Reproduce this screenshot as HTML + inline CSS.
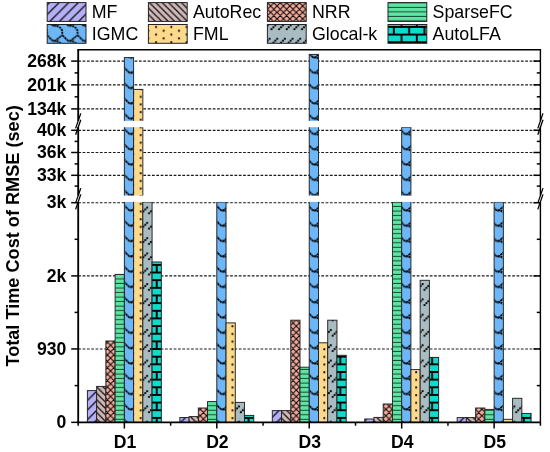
<!DOCTYPE html>
<html><head><meta charset="utf-8"><title>Total Time Cost of RMSE</title>
<style>
html,body{margin:0;padding:0;background:#fff;}
body{width:550px;height:452px;overflow:hidden;}
svg{display:block;}
text{font-family:"Liberation Sans",Arial,Helvetica,sans-serif;fill:#000;}
.b{font-weight:bold;font-size:17.6px;}
.l{font-size:17.8px;}
.t{font-weight:bold;font-size:18.15px;}
</style></head><body>
<svg width="550" height="452" viewBox="0 0 550 452">
<defs><pattern id="pMF" patternUnits="userSpaceOnUse" width="9.603" height="9.603" x="7.7" y="0"><rect width="9.603" height="9.603" fill="#b4aff6"/><path d="M-1,1 L1,-1 M-1,10.603 L10.603,-1 M8.603,10.603 L10.603,8.603" stroke="#0a0a0a" stroke-width="1.25" fill="none"/></pattern>
<pattern id="pAutoRec" patternUnits="userSpaceOnUse" width="6.402" height="6.402" x="4.3" y="0"><rect width="6.402" height="6.402" fill="#cfb8b7"/><path d="M-1,-1 L7.402,7.402 M5.402,-1 L7.402,1 M-1,5.402 L1,7.402" stroke="#0a0a0a" stroke-width="1.2" fill="none"/></pattern>
<pattern id="pNRR" patternUnits="userSpaceOnUse" width="6.402" height="6.402" x="1.765" y="-0.405"><rect width="6.402" height="6.402" fill="#f6ac9c"/><path d="M-1,-1 L7.402,7.402 M5.402,-1 L7.402,1 M-1,5.402 L1,7.402 M-1,1 L1,-1 M-1,7.402 L7.402,-1 M5.402,7.402 L7.402,5.402" stroke="#0a0a0a" stroke-width="1.1" fill="none"/></pattern>
<pattern id="pSparseFC" patternUnits="userSpaceOnUse" width="10" height="4.527" x="0" y="0.6"><rect width="10" height="4.527" fill="#5fe4a3"/><path d="M-1,2.2 L11,2.2" stroke="#103a27" stroke-opacity="0.9" stroke-width="1" fill="none"/></pattern>
<pattern id="pIGMC" patternUnits="userSpaceOnUse" width="15.3" height="15.3" x="0" y="0.6"><rect width="15.3" height="15.3" fill="#6db6f7"/><path d="M-14.20,-10.20 L-8.40,-4.40 L-6.00,-4.40 L1.10,-10.20 M-14.20,5.10 L-8.40,10.90 L-6.00,10.90 L1.10,5.10 M-14.20,20.40 L-8.40,26.20 L-6.00,26.20 L1.10,20.40 M1.10,-10.20 L6.90,-4.40 L9.30,-4.40 L16.40,-10.20 M1.10,5.10 L6.90,10.90 L9.30,10.90 L16.40,5.10 M1.10,20.40 L6.90,26.20 L9.30,26.20 L16.40,20.40 M16.40,-10.20 L22.20,-4.40 L24.60,-4.40 L31.70,-10.20 M16.40,5.10 L22.20,10.90 L24.60,10.90 L31.70,5.10 M16.40,20.40 L22.20,26.20 L24.60,26.20 L31.70,20.40 " stroke="#000" stroke-width="1.6" stroke-dasharray="2.6 0.5" fill="none"/><path d="M-7.20,-19.70 A8.3 6.4 0 0 1 1.10,-13.30 L1.10,-10.20 M-7.20,-4.40 A8.3 6.4 0 0 1 1.10,2.00 L1.10,5.10 M-7.20,10.90 A8.3 6.4 0 0 1 1.10,17.30 L1.10,20.40 M8.10,-19.70 A8.3 6.4 0 0 1 16.40,-13.30 L16.40,-10.20 M8.10,-4.40 A8.3 6.4 0 0 1 16.40,2.00 L16.40,5.10 M8.10,10.90 A8.3 6.4 0 0 1 16.40,17.30 L16.40,20.40 M23.40,-19.70 A8.3 6.4 0 0 1 31.70,-13.30 L31.70,-10.20 M23.40,-4.40 A8.3 6.4 0 0 1 31.70,2.00 L31.70,5.10 M23.40,10.90 A8.3 6.4 0 0 1 31.70,17.30 L31.70,20.40 " stroke="#000" stroke-width="1.9" stroke-dasharray="1.9 0.9" fill="none"/></pattern>
<pattern id="pFML" patternUnits="userSpaceOnUse" width="15.3" height="7.65"><rect width="15.3" height="7.65" fill="#fcd98b"/><rect x="2.15" y="4.05" width="1.8" height="1.9" fill="#000"/><rect x="9.8" y="0.22" width="1.8" height="1.9" fill="#000"/></pattern>
<pattern id="pGlocal" patternUnits="userSpaceOnUse" width="7.65" height="15.3"><rect width="7.65" height="15.3" fill="#a8bcc1"/><g fill="#000"><rect x="-4.90" y="-1.85" width="1.9" height="1.9"/><rect x="-4.90" y="13.45" width="1.9" height="1.9"/><rect x="-4.90" y="28.75" width="1.9" height="1.9"/><rect x="2.75" y="-1.85" width="1.9" height="1.9"/><rect x="2.75" y="13.45" width="1.9" height="1.9"/><rect x="2.75" y="28.75" width="1.9" height="1.9"/><rect x="10.40" y="-1.85" width="1.9" height="1.9"/><rect x="10.40" y="13.45" width="1.9" height="1.9"/><rect x="10.40" y="28.75" width="1.9" height="1.9"/><rect x="-2.98" y="-3.75" width="1.9" height="1.9"/><rect x="-2.98" y="11.55" width="1.9" height="1.9"/><rect x="-2.98" y="26.85" width="1.9" height="1.9"/><rect x="4.67" y="-3.75" width="1.9" height="1.9"/><rect x="4.67" y="11.55" width="1.9" height="1.9"/><rect x="4.67" y="26.85" width="1.9" height="1.9"/><rect x="12.32" y="-3.75" width="1.9" height="1.9"/><rect x="12.32" y="11.55" width="1.9" height="1.9"/><rect x="12.32" y="26.85" width="1.9" height="1.9"/><rect x="-1.06" y="-5.65" width="1.9" height="1.9"/><rect x="-1.06" y="9.65" width="1.9" height="1.9"/><rect x="-1.06" y="24.95" width="1.9" height="1.9"/><rect x="6.59" y="-5.65" width="1.9" height="1.9"/><rect x="6.59" y="9.65" width="1.9" height="1.9"/><rect x="6.59" y="24.95" width="1.9" height="1.9"/><rect x="14.24" y="-5.65" width="1.9" height="1.9"/><rect x="14.24" y="9.65" width="1.9" height="1.9"/><rect x="14.24" y="24.95" width="1.9" height="1.9"/><rect x="0.86" y="-7.55" width="1.9" height="1.9"/><rect x="0.86" y="7.75" width="1.9" height="1.9"/><rect x="0.86" y="23.05" width="1.9" height="1.9"/><rect x="8.51" y="-7.55" width="1.9" height="1.9"/><rect x="8.51" y="7.75" width="1.9" height="1.9"/><rect x="8.51" y="23.05" width="1.9" height="1.9"/><rect x="16.16" y="-7.55" width="1.9" height="1.9"/><rect x="16.16" y="7.75" width="1.9" height="1.9"/><rect x="16.16" y="23.05" width="1.9" height="1.9"/></g></pattern>
<pattern id="pAutoLFA" patternUnits="userSpaceOnUse" width="15.3" height="15.3"><rect width="15.3" height="15.3" fill="#12dacb"/><path d="M-1,4.8 L16.3,4.8 M-1,12.45 L16.3,12.45 M3.7,4.8 L3.7,12.45 M11.350000000000001,12.45 L11.350000000000001,16.3 M11.350000000000001,-1 L11.350000000000001,4.8" stroke="#000" stroke-width="1.9" fill="none"/></pattern></defs>
<rect width="550" height="452" fill="#fff"/>
<line x1="78.2" y1="61.1" x2="540.4" y2="61.1" stroke="#1a1a1a" stroke-width="1.15" stroke-dasharray="2.75 1.59"/>
<line x1="78.2" y1="84.85" x2="540.4" y2="84.85" stroke="#1a1a1a" stroke-width="1.15" stroke-dasharray="2.75 1.59"/>
<line x1="78.2" y1="108.9" x2="540.4" y2="108.9" stroke="#1a1a1a" stroke-width="1.15" stroke-dasharray="2.75 1.59"/>
<line x1="78.2" y1="130.3" x2="540.4" y2="130.3" stroke="#1a1a1a" stroke-width="1.15" stroke-dasharray="2.75 1.59"/>
<line x1="78.2" y1="152.5" x2="540.4" y2="152.5" stroke="#1a1a1a" stroke-width="1.15" stroke-dasharray="2.75 1.59"/>
<line x1="78.2" y1="175.3" x2="540.4" y2="175.3" stroke="#1a1a1a" stroke-width="1.15" stroke-dasharray="2.75 1.59"/>
<line x1="78.2" y1="202.7" x2="540.4" y2="202.7" stroke="#1a1a1a" stroke-width="1.15" stroke-dasharray="2.75 1.59"/>
<line x1="78.2" y1="275.9" x2="540.4" y2="275.9" stroke="#1a1a1a" stroke-width="1.15" stroke-dasharray="2.75 1.59"/>
<line x1="78.2" y1="348.95" x2="540.4" y2="348.95" stroke="#1a1a1a" stroke-width="1.15" stroke-dasharray="2.75 1.59"/>
<rect x="87.40" y="390.60" width="9.24" height="31.75" fill="url(#pMF)" stroke="#222" stroke-width="0.95"/>
<rect x="96.64" y="386.40" width="9.24" height="35.95" fill="url(#pAutoRec)" stroke="#222" stroke-width="0.95"/>
<rect x="105.88" y="341.00" width="9.24" height="81.35" fill="url(#pNRR)" stroke="#222" stroke-width="0.95"/>
<rect x="115.12" y="274.40" width="9.24" height="147.95" fill="url(#pSparseFC)" stroke="#222" stroke-width="0.95"/>
<rect x="124.36" y="57.60" width="9.24" height="364.75" fill="url(#pIGMC)" stroke="#222" stroke-width="0.95"/>
<rect x="133.60" y="89.40" width="9.24" height="332.95" fill="url(#pFML)" stroke="#222" stroke-width="0.95"/>
<rect x="142.84" y="202.00" width="9.24" height="220.35" fill="url(#pGlocal)" stroke="#222" stroke-width="0.95"/>
<rect x="152.08" y="262.00" width="9.24" height="160.35" fill="url(#pAutoLFA)" stroke="#222" stroke-width="0.95"/>
<rect x="179.84" y="417.50" width="9.24" height="4.85" fill="url(#pMF)" stroke="#222" stroke-width="0.95"/>
<rect x="189.08" y="416.60" width="9.24" height="5.75" fill="url(#pAutoRec)" stroke="#222" stroke-width="0.95"/>
<rect x="198.32" y="408.00" width="9.24" height="14.35" fill="url(#pNRR)" stroke="#222" stroke-width="0.95"/>
<rect x="207.56" y="401.60" width="9.24" height="20.75" fill="url(#pSparseFC)" stroke="#222" stroke-width="0.95"/>
<rect x="216.80" y="202.00" width="9.24" height="220.35" fill="url(#pIGMC)" stroke="#222" stroke-width="0.95"/>
<rect x="226.04" y="322.90" width="9.24" height="99.45" fill="url(#pFML)" stroke="#222" stroke-width="0.95"/>
<rect x="235.28" y="402.40" width="9.24" height="19.95" fill="url(#pGlocal)" stroke="#222" stroke-width="0.95"/>
<rect x="244.52" y="415.40" width="9.24" height="6.95" fill="url(#pAutoLFA)" stroke="#222" stroke-width="0.95"/>
<rect x="272.28" y="410.60" width="9.24" height="11.75" fill="url(#pMF)" stroke="#222" stroke-width="0.95"/>
<rect x="281.52" y="410.60" width="9.24" height="11.75" fill="url(#pAutoRec)" stroke="#222" stroke-width="0.95"/>
<rect x="290.76" y="320.20" width="9.24" height="102.15" fill="url(#pNRR)" stroke="#222" stroke-width="0.95"/>
<rect x="300.00" y="367.20" width="9.24" height="55.15" fill="url(#pSparseFC)" stroke="#222" stroke-width="0.95"/>
<rect x="309.24" y="54.40" width="9.24" height="367.95" fill="url(#pIGMC)" stroke="#222" stroke-width="0.95"/>
<rect x="318.48" y="342.80" width="9.24" height="79.55" fill="url(#pFML)" stroke="#222" stroke-width="0.95"/>
<rect x="327.72" y="320.20" width="9.24" height="102.15" fill="url(#pGlocal)" stroke="#222" stroke-width="0.95"/>
<rect x="336.96" y="355.30" width="9.24" height="67.05" fill="url(#pAutoLFA)" stroke="#222" stroke-width="0.95"/>
<rect x="364.72" y="419.00" width="9.24" height="3.35" fill="url(#pMF)" stroke="#222" stroke-width="0.95"/>
<rect x="373.96" y="417.40" width="9.24" height="4.95" fill="url(#pAutoRec)" stroke="#222" stroke-width="0.95"/>
<rect x="383.20" y="404.00" width="9.24" height="18.35" fill="url(#pNRR)" stroke="#222" stroke-width="0.95"/>
<rect x="392.44" y="202.00" width="9.24" height="220.35" fill="url(#pSparseFC)" stroke="#222" stroke-width="0.95"/>
<rect x="401.68" y="127.40" width="9.24" height="294.95" fill="url(#pIGMC)" stroke="#222" stroke-width="0.95"/>
<rect x="410.92" y="369.60" width="9.24" height="52.75" fill="url(#pFML)" stroke="#222" stroke-width="0.95"/>
<rect x="420.16" y="280.30" width="9.24" height="142.05" fill="url(#pGlocal)" stroke="#222" stroke-width="0.95"/>
<rect x="429.40" y="357.40" width="9.24" height="64.95" fill="url(#pAutoLFA)" stroke="#222" stroke-width="0.95"/>
<rect x="457.16" y="417.60" width="9.24" height="4.75" fill="url(#pMF)" stroke="#222" stroke-width="0.95"/>
<rect x="466.40" y="417.60" width="9.24" height="4.75" fill="url(#pAutoRec)" stroke="#222" stroke-width="0.95"/>
<rect x="475.64" y="408.00" width="9.24" height="14.35" fill="url(#pNRR)" stroke="#222" stroke-width="0.95"/>
<rect x="484.88" y="409.40" width="9.24" height="12.95" fill="url(#pSparseFC)" stroke="#222" stroke-width="0.95"/>
<rect x="494.12" y="202.00" width="9.24" height="220.35" fill="url(#pIGMC)" stroke="#222" stroke-width="0.95"/>
<rect x="503.36" y="419.30" width="9.24" height="3.05" fill="url(#pFML)" stroke="#222" stroke-width="0.95"/>
<rect x="512.60" y="398.30" width="9.24" height="24.05" fill="url(#pGlocal)" stroke="#222" stroke-width="0.95"/>
<rect x="521.84" y="413.40" width="9.24" height="8.95" fill="url(#pAutoLFA)" stroke="#222" stroke-width="0.95"/>
<rect x="79.2" y="120.9" width="460.2" height="6.299999999999997" fill="#fff"/>
<rect x="79.2" y="195.6" width="460.2" height="6.300000000000011" fill="#fff"/>
<line x1="78.2" y1="49.7" x2="78.2" y2="120.9" stroke="#000" stroke-width="1.85"/>
<line x1="78.2" y1="127.2" x2="78.2" y2="195.6" stroke="#000" stroke-width="1.85"/>
<line x1="78.2" y1="201.9" x2="78.2" y2="422.35" stroke="#000" stroke-width="1.85"/>
<line x1="80.8" y1="113.4" x2="75.60000000000001" y2="128.4" stroke="#000" stroke-width="1.3"/>
<line x1="80.8" y1="119.7" x2="75.60000000000001" y2="134.7" stroke="#000" stroke-width="1.3"/>
<line x1="80.8" y1="188.1" x2="75.60000000000001" y2="203.1" stroke="#000" stroke-width="1.3"/>
<line x1="80.8" y1="194.4" x2="75.60000000000001" y2="209.4" stroke="#000" stroke-width="1.3"/>
<line x1="540.4" y1="49.7" x2="540.4" y2="120.9" stroke="#000" stroke-width="1.4"/>
<line x1="540.4" y1="127.2" x2="540.4" y2="195.6" stroke="#000" stroke-width="1.4"/>
<line x1="540.4" y1="201.9" x2="540.4" y2="422.35" stroke="#000" stroke-width="1.4"/>
<line x1="543.0" y1="113.4" x2="537.8" y2="128.4" stroke="#000" stroke-width="1.3"/>
<line x1="543.0" y1="119.7" x2="537.8" y2="134.7" stroke="#000" stroke-width="1.3"/>
<line x1="543.0" y1="188.1" x2="537.8" y2="203.1" stroke="#000" stroke-width="1.3"/>
<line x1="543.0" y1="194.4" x2="537.8" y2="209.4" stroke="#000" stroke-width="1.3"/>
<line x1="77.3" y1="49.7" x2="541.1" y2="49.7" stroke="#000" stroke-width="1.55"/>
<line x1="77.3" y1="422.35" x2="541.1" y2="422.35" stroke="#000" stroke-width="1.55"/>
<line x1="71.2" y1="61.1" x2="78.2" y2="61.1" stroke="#000" stroke-width="1.5"/>
<line x1="533.4" y1="61.1" x2="540.4" y2="61.1" stroke="#000" stroke-width="1.5"/>
<line x1="71.2" y1="84.85" x2="78.2" y2="84.85" stroke="#000" stroke-width="1.5"/>
<line x1="533.4" y1="84.85" x2="540.4" y2="84.85" stroke="#000" stroke-width="1.5"/>
<line x1="71.2" y1="108.9" x2="78.2" y2="108.9" stroke="#000" stroke-width="1.5"/>
<line x1="533.4" y1="108.9" x2="540.4" y2="108.9" stroke="#000" stroke-width="1.5"/>
<line x1="71.2" y1="130.3" x2="78.2" y2="130.3" stroke="#000" stroke-width="1.5"/>
<line x1="533.4" y1="130.3" x2="540.4" y2="130.3" stroke="#000" stroke-width="1.5"/>
<line x1="71.2" y1="152.5" x2="78.2" y2="152.5" stroke="#000" stroke-width="1.5"/>
<line x1="533.4" y1="152.5" x2="540.4" y2="152.5" stroke="#000" stroke-width="1.5"/>
<line x1="71.2" y1="175.3" x2="78.2" y2="175.3" stroke="#000" stroke-width="1.5"/>
<line x1="533.4" y1="175.3" x2="540.4" y2="175.3" stroke="#000" stroke-width="1.5"/>
<line x1="71.2" y1="202.7" x2="78.2" y2="202.7" stroke="#000" stroke-width="1.5"/>
<line x1="533.4" y1="202.7" x2="540.4" y2="202.7" stroke="#000" stroke-width="1.5"/>
<line x1="71.2" y1="275.9" x2="78.2" y2="275.9" stroke="#000" stroke-width="1.5"/>
<line x1="533.4" y1="275.9" x2="540.4" y2="275.9" stroke="#000" stroke-width="1.5"/>
<line x1="71.2" y1="348.95" x2="78.2" y2="348.95" stroke="#000" stroke-width="1.5"/>
<line x1="533.4" y1="348.95" x2="540.4" y2="348.95" stroke="#000" stroke-width="1.5"/>
<line x1="71.2" y1="422.35" x2="78.2" y2="422.35" stroke="#000" stroke-width="1.5"/>
<line x1="74.60000000000001" y1="72.9" x2="78.2" y2="72.9" stroke="#000" stroke-width="1.5"/>
<line x1="536.8" y1="72.9" x2="540.4" y2="72.9" stroke="#000" stroke-width="1.5"/>
<line x1="74.60000000000001" y1="96.8" x2="78.2" y2="96.8" stroke="#000" stroke-width="1.5"/>
<line x1="536.8" y1="96.8" x2="540.4" y2="96.8" stroke="#000" stroke-width="1.5"/>
<line x1="74.60000000000001" y1="141.4" x2="78.2" y2="141.4" stroke="#000" stroke-width="1.5"/>
<line x1="536.8" y1="141.4" x2="540.4" y2="141.4" stroke="#000" stroke-width="1.5"/>
<line x1="74.60000000000001" y1="163.9" x2="78.2" y2="163.9" stroke="#000" stroke-width="1.5"/>
<line x1="536.8" y1="163.9" x2="540.4" y2="163.9" stroke="#000" stroke-width="1.5"/>
<line x1="74.60000000000001" y1="186.1" x2="78.2" y2="186.1" stroke="#000" stroke-width="1.5"/>
<line x1="536.8" y1="186.1" x2="540.4" y2="186.1" stroke="#000" stroke-width="1.5"/>
<line x1="74.60000000000001" y1="239.3" x2="78.2" y2="239.3" stroke="#000" stroke-width="1.5"/>
<line x1="536.8" y1="239.3" x2="540.4" y2="239.3" stroke="#000" stroke-width="1.5"/>
<line x1="74.60000000000001" y1="312.4" x2="78.2" y2="312.4" stroke="#000" stroke-width="1.5"/>
<line x1="536.8" y1="312.4" x2="540.4" y2="312.4" stroke="#000" stroke-width="1.5"/>
<line x1="74.60000000000001" y1="385.6" x2="78.2" y2="385.6" stroke="#000" stroke-width="1.5"/>
<line x1="536.8" y1="385.6" x2="540.4" y2="385.6" stroke="#000" stroke-width="1.5"/>
<line x1="124.36" y1="422.35" x2="124.36" y2="428.55" stroke="#000" stroke-width="1.5"/>
<line x1="216.80" y1="422.35" x2="216.80" y2="428.55" stroke="#000" stroke-width="1.5"/>
<line x1="309.24" y1="422.35" x2="309.24" y2="428.55" stroke="#000" stroke-width="1.5"/>
<line x1="401.68" y1="422.35" x2="401.68" y2="428.55" stroke="#000" stroke-width="1.5"/>
<line x1="494.12" y1="422.35" x2="494.12" y2="428.55" stroke="#000" stroke-width="1.5"/>
<line x1="78.20" y1="422.35" x2="78.20" y2="425.75" stroke="#000" stroke-width="1.5"/>
<line x1="170.64" y1="422.35" x2="170.64" y2="425.75" stroke="#000" stroke-width="1.5"/>
<line x1="263.08" y1="422.35" x2="263.08" y2="425.75" stroke="#000" stroke-width="1.5"/>
<line x1="355.52" y1="422.35" x2="355.52" y2="425.75" stroke="#000" stroke-width="1.5"/>
<line x1="447.96" y1="422.35" x2="447.96" y2="425.75" stroke="#000" stroke-width="1.5"/>
<line x1="540.40" y1="422.35" x2="540.40" y2="425.75" stroke="#000" stroke-width="1.5"/>
<text x="66.3" y="66.8" text-anchor="end" class="b">268k</text>
<text x="66.3" y="90.5" text-anchor="end" class="b">201k</text>
<text x="66.3" y="114.6" text-anchor="end" class="b">134k</text>
<text x="66.3" y="136.0" text-anchor="end" class="b">40k</text>
<text x="66.3" y="158.2" text-anchor="end" class="b">36k</text>
<text x="66.3" y="181.0" text-anchor="end" class="b">33k</text>
<text x="66.3" y="208.4" text-anchor="end" class="b">3k</text>
<text x="66.3" y="281.6" text-anchor="end" class="b">2k</text>
<text x="66.3" y="354.6" text-anchor="end" class="b">930</text>
<text x="66.3" y="428.1" text-anchor="end" class="b">0</text>
<text x="125.0" y="448.1" text-anchor="middle" class="b">D1</text>
<text x="217.4" y="448.1" text-anchor="middle" class="b">D2</text>
<text x="309.8" y="448.1" text-anchor="middle" class="b">D3</text>
<text x="402.3" y="448.1" text-anchor="middle" class="b">D4</text>
<text x="494.7" y="448.1" text-anchor="middle" class="b">D5</text>
<text transform="translate(19.1,235.9) rotate(-90)" text-anchor="middle" class="t">Total Time Cost of RMSE (sec)</text>
<g transform="translate(-3.65,0)"><rect x="50.85" y="2.60" width="38.8" height="18.8" fill="url(#pMF)" stroke="#222" stroke-width="1"/></g>
<text x="91.80000000000001" y="17.7" class="l">MF</text>
<g transform="translate(1.65,0)"><rect x="146.75" y="2.60" width="38.8" height="18.8" fill="url(#pAutoRec)" stroke="#222" stroke-width="1"/></g>
<text x="193.0" y="17.7" class="l">AutoRec</text>
<g transform="translate(0,0)"><rect x="267.40" y="2.60" width="38.8" height="18.8" fill="url(#pNRR)" stroke="#222" stroke-width="1"/></g>
<text x="312.0" y="17.7" class="l">NRR</text>
<g transform="translate(0,0)"><rect x="388.00" y="2.60" width="38.8" height="18.8" fill="url(#pSparseFC)" stroke="#222" stroke-width="1"/></g>
<text x="432.6" y="17.7" class="l">SparseFC</text>
<g transform="translate(0,-1.2)"><rect x="47.20" y="25.70" width="38.8" height="18.8" fill="url(#pIGMC)" stroke="#222" stroke-width="1"/></g>
<text x="91.80000000000001" y="39.5" class="l">IGMC</text>
<g transform="translate(0,-1.0)"><rect x="148.40" y="25.50" width="38.8" height="18.8" fill="url(#pFML)" stroke="#222" stroke-width="1"/></g>
<text x="193.0" y="39.5" class="l">FML</text>
<g transform="translate(0,-0.5)"><rect x="267.40" y="25.00" width="38.8" height="18.8" fill="url(#pGlocal)" stroke="#222" stroke-width="1"/></g>
<text x="312.0" y="39.5" class="l">Glocal-k</text>
<g transform="translate(0,-0.8)"><rect x="388.00" y="25.30" width="38.8" height="18.8" fill="url(#pAutoLFA)" stroke="#222" stroke-width="1"/></g>
<text x="432.6" y="39.5" class="l">AutoLFA</text>
</svg>
</body></html>
